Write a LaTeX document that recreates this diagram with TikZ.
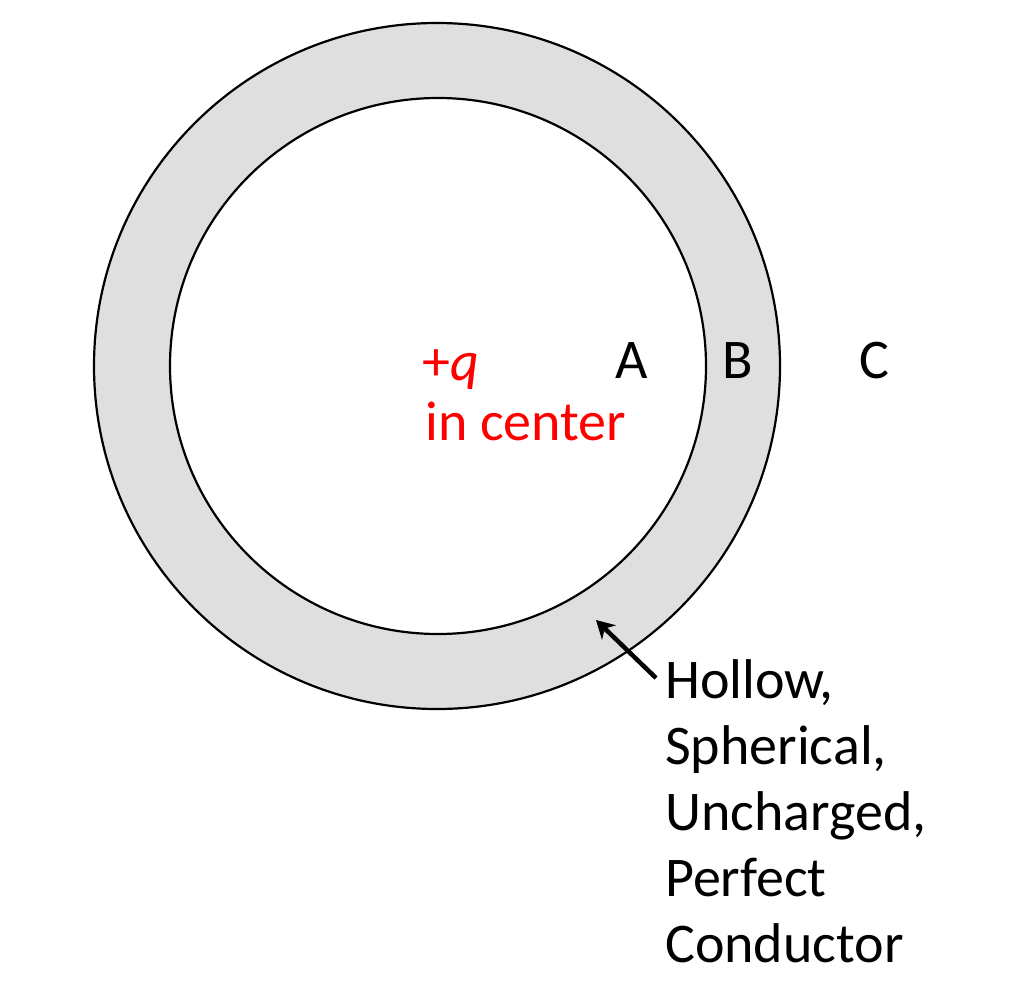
\documentclass[tikz,border=0pt]{standalone}
\usepackage{fontspec}
\setmainfont{Carlito}
\usetikzlibrary{arrows.meta}
\begin{document}
\begin{tikzpicture}[x=1pt,y=-1pt,
  lbl/.style={font=\fontsize{56}{66}\selectfont,inner sep=0pt},
  ring/.style={draw=black,line width=2.2pt}]
\useasboundingbox (0,0) rectangle (1024,981);
\fill[ring,fill=gray!25] (437,366) circle (343);
\fill[ring,fill=white] (438,366) circle (268);
\node[lbl,text=red,anchor=base west] (q) at (422,380) {+\textit{q}};
\node[lbl,text=red,anchor=base west] (ic) at (425,440) {in center};
\node[lbl,anchor=base] (A) at (632,378) {A};
\node[lbl,anchor=base] (B) at (738,378) {B};
\node[lbl,anchor=base] (C) at (874,378) {C};
\node[lbl,anchor=base west,align=left] (t) at (665,962) {Hollow,\\Spherical,\\Uncharged,\\Perfect\\Conductor};
\coordinate (tip) at (596,620);
\draw[line width=4.5pt,-{Stealth[length=18pt,width=20pt]}] (656,678) -- (tip);
\end{tikzpicture}
\end{document}
